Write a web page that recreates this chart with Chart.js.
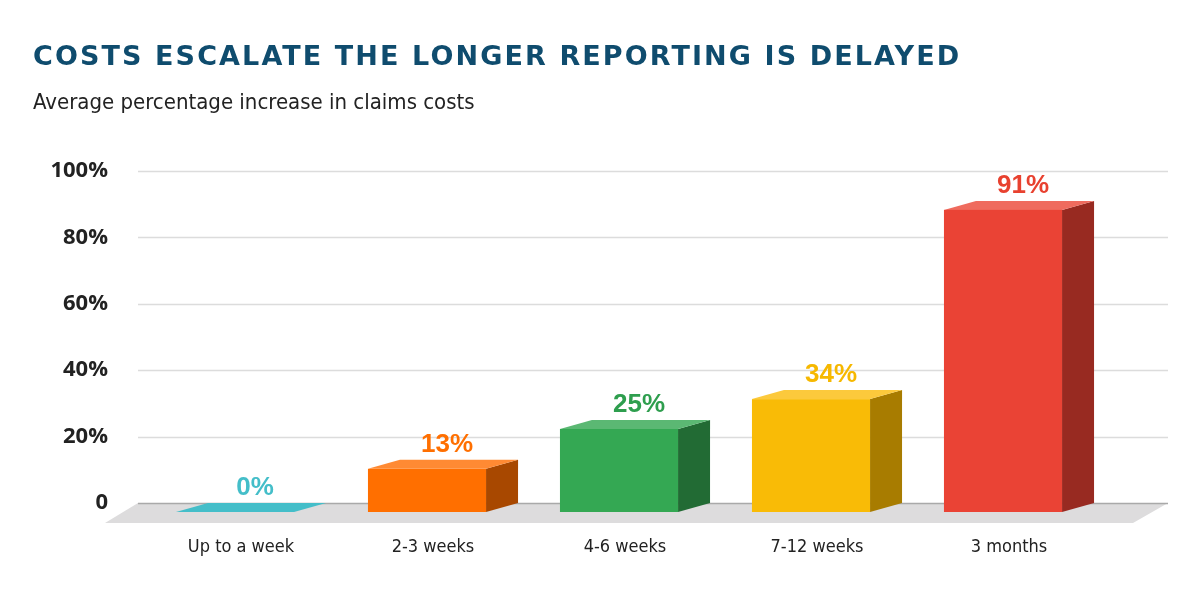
<!DOCTYPE html>
<html>
<head>
<meta charset="utf-8">
<script src="https://cdn.jsdelivr.net/npm/chart.js@4"></script>
<style>
  html, body { margin: 0; padding: 0; background: #fff; }
  #wrap { position: relative; width: 1200px; height: 600px; }
  #title {
    position: absolute; left: 33px; top: 40px; margin: 0;
    font: 700 27px "DejaVu Sans", sans-serif; color: #0f4c6e; letter-spacing: 2.1px;
    white-space: nowrap;
  }
  #subtitle {
    position: absolute; left: 33px; top: 89px; margin: 0;
    font: 400 22px "Liberation Sans Narrow", "DejaVu Sans Condensed", sans-serif; color: #222;
    white-space: nowrap;
  }
  canvas { position: absolute; left: 0; top: 0; }
</style>
</head>
<body>
<div id="wrap">
  <canvas id="chart" width="1200" height="600"></canvas>
  <h1 id="title">COSTS ESCALATE THE LONGER REPORTING IS DELAYED</h1>
  <p id="subtitle">Average percentage increase in claims costs</p>
</div>
<script>
// Data
const categories = ['Up to a week', '2-3 weeks', '4-6 weeks', '7-12 weeks', '3 months']
const increase = [0, 13, 25, 34, 91]
const yTicks = [0, 20, 40, 60, 80, 100]

// Face colours for each box: front, top, side
const frontColors = ['#44bec9', '#ff6f00', '#34a853', '#f9bb06', '#ea4335']
const topColors = ['#44bec9', '#ff8a33', '#5bb873', '#fcc93c', '#ef6b5e']
const sideColors = ['#2f8f98', '#a84800', '#226b34', '#a87c00', '#982a21']
const labelColors = ['#44bec9', '#ff6f00', '#2e9e4e', '#f6b800', '#e8412f']

const DX = 32   // depth offset of bars, horizontal
const DY = 9    // depth offset of bars, vertical

const narrow = '"Liberation Sans Narrow", "DejaVu Sans Condensed", sans-serif'

// floor + gridlines behind the boxes, then the boxes themselves
const box3d = {
  id: 'box3d',
  beforeDatasetsDraw(chart) {
    const { ctx, chartArea } = chart
    const y = chart.scales.y
    const x0 = chartArea.left - 33
    const x1 = chartArea.right + 37
    const base = y.getPixelForValue(0)

    ctx.save()
    // floor
    ctx.fillStyle = '#dddcdd'
    ctx.beginPath()
    ctx.moveTo(x0, base)
    ctx.lineTo(x1, base)
    ctx.lineTo(x1 - 35, base + 20)
    ctx.lineTo(x0 - 33, base + 20)
    ctx.closePath()
    ctx.fill()

    // gridlines
    yTicks.forEach(v => {
      const py = Math.round(y.getPixelForValue(v)) + 0.5
      ctx.strokeStyle = v === 0 ? '#a9a9a9' : '#dcdcdc'
      ctx.lineWidth = 1.5
      ctx.beginPath()
      ctx.moveTo(x0, py)
      ctx.lineTo(x1, py)
      ctx.stroke()
    })
    ctx.restore()
  },
  afterDatasetsDraw(chart) {
    const { ctx } = chart
    const meta = chart.getDatasetMeta(0)
    ctx.save()
    meta.data.forEach((bar, i) => {
      const p = bar.getProps(['x', 'y', 'base', 'width'], true)
      const bl = p.x - p.width / 2, br = p.x + p.width / 2   // back face
      const fl = bl - DX, fr = br - DX                       // front face
      const top = p.y, bot = p.base
      const ft = top + DY, fb = bot + DY

      // side
      ctx.fillStyle = sideColors[i]
      ctx.beginPath()
      ctx.moveTo(fr, ft); ctx.lineTo(br, top); ctx.lineTo(br, bot); ctx.lineTo(fr, fb)
      ctx.closePath(); ctx.fill()

      // top
      ctx.fillStyle = topColors[i]
      ctx.beginPath()
      ctx.moveTo(fl, ft); ctx.lineTo(bl, top); ctx.lineTo(br, top); ctx.lineTo(fr, ft)
      ctx.closePath(); ctx.fill()

      // front
      ctx.fillStyle = frontColors[i]
      ctx.fillRect(fl, ft, fr - fl, fb - ft)

      // value label
      ctx.fillStyle = labelColors[i]
      ctx.font = 'bold 26px "Liberation Sans", Arial, sans-serif'
      ctx.textAlign = 'center'
      ctx.textBaseline = 'alphabetic'
      ctx.fillText(increase[i] + '%', p.x - DX / 2 + 4, top - 8)
    })
    ctx.restore()
  }
}

new Chart(document.getElementById('chart').getContext('2d'), {
  type: 'bar',
  data: {
    labels: categories,
    datasets: [{
      data: increase,
      backgroundColor: 'rgba(0,0,0,0)',
      barPercentage: 0.615,
      categoryPercentage: 1
    }]
  },
  options: {
    responsive: false,
    animation: false,
    layout: { padding: { top: 171, right: 69, bottom: 0, left: 0 } },
    scales: {
      x: {
        grid: { display: false, drawTicks: false },
        border: { display: false },
        ticks: {
          padding: 34,
          labelOffset: -26,
          color: '#222',
          font: { family: narrow, size: 18 }
        },
        afterFit(scale) { scale.height = 97 }
      },
      y: {
        min: 0,
        max: 100,
        grid: { display: false, drawTicks: false },
        border: { display: false },
        ticks: {
          stepSize: 20,
          padding: 63,
          color: '#222',
          font: { family: '"Open Sans", sans-serif', size: 22, weight: 'bold' },
          callback: v => v === 0 ? '0' : v + '%'
        },
        afterFit(scale) { scale.width = 171 }
      }
    },
    plugins: {
      legend: { display: false },
      tooltip: { enabled: false }
    }
  },
  plugins: [box3d]
})
</script>
</body>
</html>
